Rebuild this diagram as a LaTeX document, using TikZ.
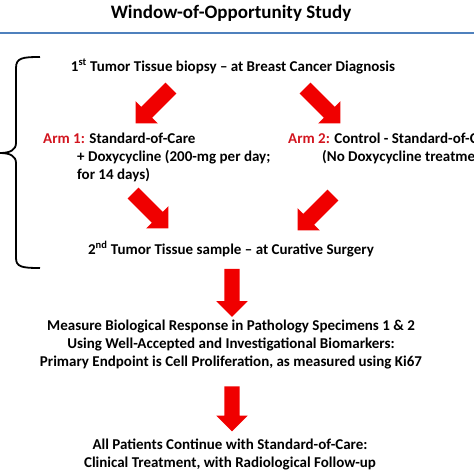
\documentclass[tikz,border=0pt]{standalone}
\usepackage{fontspec}
\setmainfont{Carlito}
\usetikzlibrary{shapes.arrows}
\definecolor{myred}{RGB}{240,0,0}
\definecolor{mydarkred}{RGB}{210,20,30}
\definecolor{myblue}{RGB}{79,129,189}
\newcommand{\widthhead}{31pt}
\newcommand{\indentarm}{34pt}
\tikzset{
    common/.style={inner sep=0pt, font=\fontsize{15}{18}\selectfont\bfseries},
    line/.style={common, anchor=base, align=center},
    arm/.style={common, anchor=base west, align=left},
    bigarrow/.style={single arrow, fill=myred, draw=none, inner sep=7.5pt,
        minimum width=\widthhead, single arrow head extend=8pt}
}
\begin{document}
\begin{tikzpicture}[x=1pt, y=-1pt]
    \useasboundingbox (0,0) rectangle (474,474);

    \node[common, font=\fontsize{19}{22}\selectfont\bfseries, anchor=base] (title) at (231,18) {Window-of-Opportunity Study};
    \draw[myblue, line width=2pt] (0,33) -- (474,33);

    % window brace
    \draw[line width=1.8pt]
        (40,57) .. controls (22,57) and (16,58) .. (16,68) -- (16,143)
        .. controls (16,150) and (10,153) .. (0,153)
        .. controls (10,153) and (16,156) .. (16,163) -- (16,258)
        .. controls (16,267) and (22,268) .. (40,268);

    \node[line] (biopsy) at (233,71) {1\textsuperscript{st} Tumor Tissue biopsy -- at Breast Cancer Diagnosis};
    \node[bigarrow, minimum height=50pt, rotate=-135] (split1) at (156,103) {};
    \node[bigarrow, minimum height=50pt, rotate=-45] (split2) at (320,103) {};

    % base of a multi-line node = last line
    \node[arm] (arm1) at (43,179) {\textcolor{mydarkred}{Arm 1:} Standard-of-Care\\
        \hspace*{\indentarm}+ Doxycycline (200-mg per day;\\
        \hspace*{\indentarm}for 14 days)};
    \node[arm] (arm2) at (288,161) {\textcolor{mydarkred}{Arm 2:} Control - Standard-of-Care\\
        \hspace*{\indentarm}(No Doxycycline treatment)};

    \node[bigarrow, minimum height=50pt, rotate=-45] (join1) at (148,208) {};
    \node[bigarrow, minimum height=50pt, rotate=-135] (join2) at (318,210) {};

    \node[line] (surgery) at (231,254) {2\textsuperscript{nd} Tumor Tissue sample -- at Curative Surgery};
    \node[bigarrow, minimum height=48pt, rotate=-90] (down1) at (232,289) {};

    \node[line] (measure) at (231,366) {Measure Biological Response in Pathology Specimens 1 \& 2\\
        Using Well-Accepted and Investigational Biomarkers:\\
        Primary Endpoint is Cell Proliferation, as measured using Ki67};
    \node[bigarrow, minimum height=45pt, rotate=-90] (down2) at (232,405) {};

    \node[line] (continue) at (230,467) {All Patients Continue with Standard-of-Care:\\
        Clinical Treatment, with Radiological Follow-up};
\end{tikzpicture}
\end{document}
